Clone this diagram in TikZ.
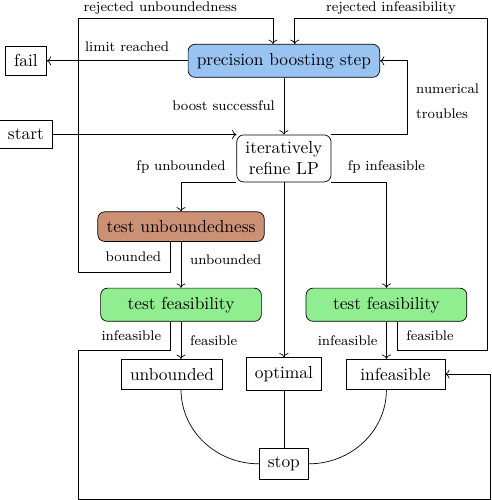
\documentclass[tikz,border=0pt]{standalone}
\usepackage{tikz}
\usetikzlibrary{arrows.meta,positioning,calc}
\definecolor{boostblue}{RGB}{153,196,242}
\definecolor{testbrown}{RGB}{204,145,116}
\definecolor{feasgreen}{RGB}{144,238,144}

\begin{document}
\begin{tikzpicture}[>=To,inner sep=5pt,
    stepbox/.style={draw,rounded corners},
    resbox/.style={draw},
    lbl/.style={font=\footnotesize}]
    \useasboundingbox (-57.4mm,-88.8mm) rectangle (41.9mm,12.3mm);
    % Boosting and refinement
    \node[stepbox,fill=boostblue] (prec) at (0,0) {precision boosting step};
    \node[stepbox,fill=white,align=center,inner ysep=4pt,below=11.5mm of prec] (refine) {iteratively\\refine LP};
    \node[resbox,left=28.5mm of prec] (fail) {fail};
    \node[resbox] (start) at (fail |- refine.north) {start};
    % Tests
    \node[stepbox,fill=testbrown,minimum width=32.5mm,below=5.9mm of refine,xshift=-20.8mm] (unbtest) {test unboundedness};
    \node[stepbox,fill=feasgreen,minimum width=32.5mm,below=9.3mm of unbtest] (feasL) {test feasibility};
    \node[stepbox,fill=feasgreen,minimum width=32.5mm,right=8.9mm of feasL] (feasR) {test feasibility};
    % Results
    \node[resbox,below=35.4mm of refine] (opt) {optimal};
    \node[resbox,left=4.6mm of opt] (unb) {unbounded};
    \node[resbox,minimum width=20mm,right=4.8mm of opt] (infeas) {infeasible};
    \node[resbox,below=11.5mm of opt] (stop) {stop};
    % Loop corners
    \coordinate (ul) at (-41.5mm,8.5mm);
    \coordinate (ur) at (41.1mm,8.5mm);
    \coordinate (ll) at (-41.5mm,-88.6mm);
    \coordinate (lr) at (41.7mm,-88.6mm);
    % Edges
    \draw[->] (prec) -- node[lbl,above,pos=0.43]{limit reached} (fail);
    \draw[->] (prec) -- node[lbl,left]{boost successful} (refine);
    \draw[->] (start) -- (refine.north west);
    \draw[->] (refine.north east) -| node[lbl,right,pos=0.75,align=left,yshift=-2pt]{numerical\\[5pt]troubles} ([xshift=5.5mm]prec.east) -- (prec.east);
    \draw[->] (refine.south west) -| node[lbl,above]{fp unbounded} (unbtest);
    \draw[->] (refine.south east) -| node[lbl,above]{fp infeasible} (feasR);
    \draw[->] (refine) -- (opt);
    \draw[->] (unbtest) -- node[lbl,right,pos=0.4]{unbounded} (feasL);
    \draw[->] ([xshift=-2.2mm]unbtest.south) -- node[lbl,left]{bounded} ++(0,-6.1mm) -| (ul) -| node[lbl,above,pos=0.21,yshift=-2.5pt]{rejected unboundedness} ([xshift=-2.2mm]prec.north);
    \draw[->] ([xshift=2.2mm]feasR.south) -- node[lbl,right]{feasible} ++(0,-5.7mm) -| (ur) -| node[lbl,above,pos=0.25,yshift=-2.5pt]{rejected infeasibility} ([xshift=2.2mm]prec.north);
    \draw[->] ([xshift=-2.2mm]feasL.south) -- node[lbl,left]{infeasible} ++(0,-5.7mm) -| (ll) -- (lr) |- (infeas);
    \draw[->] (feasL.south) -- node[lbl,right]{feasible} (feasL.south |- unb.north);
    \draw[->] (feasR.south) -- node[lbl,left]{infeasible} (feasR.south |- infeas.north);
    \draw (feasL.south |- unb.south) to[out=-90,in=180] (stop);
    \draw (opt) -- (stop);
    \draw (feasR.south |- infeas.south) to[out=-90,in=0] (stop);
\end{tikzpicture}
\end{document}
